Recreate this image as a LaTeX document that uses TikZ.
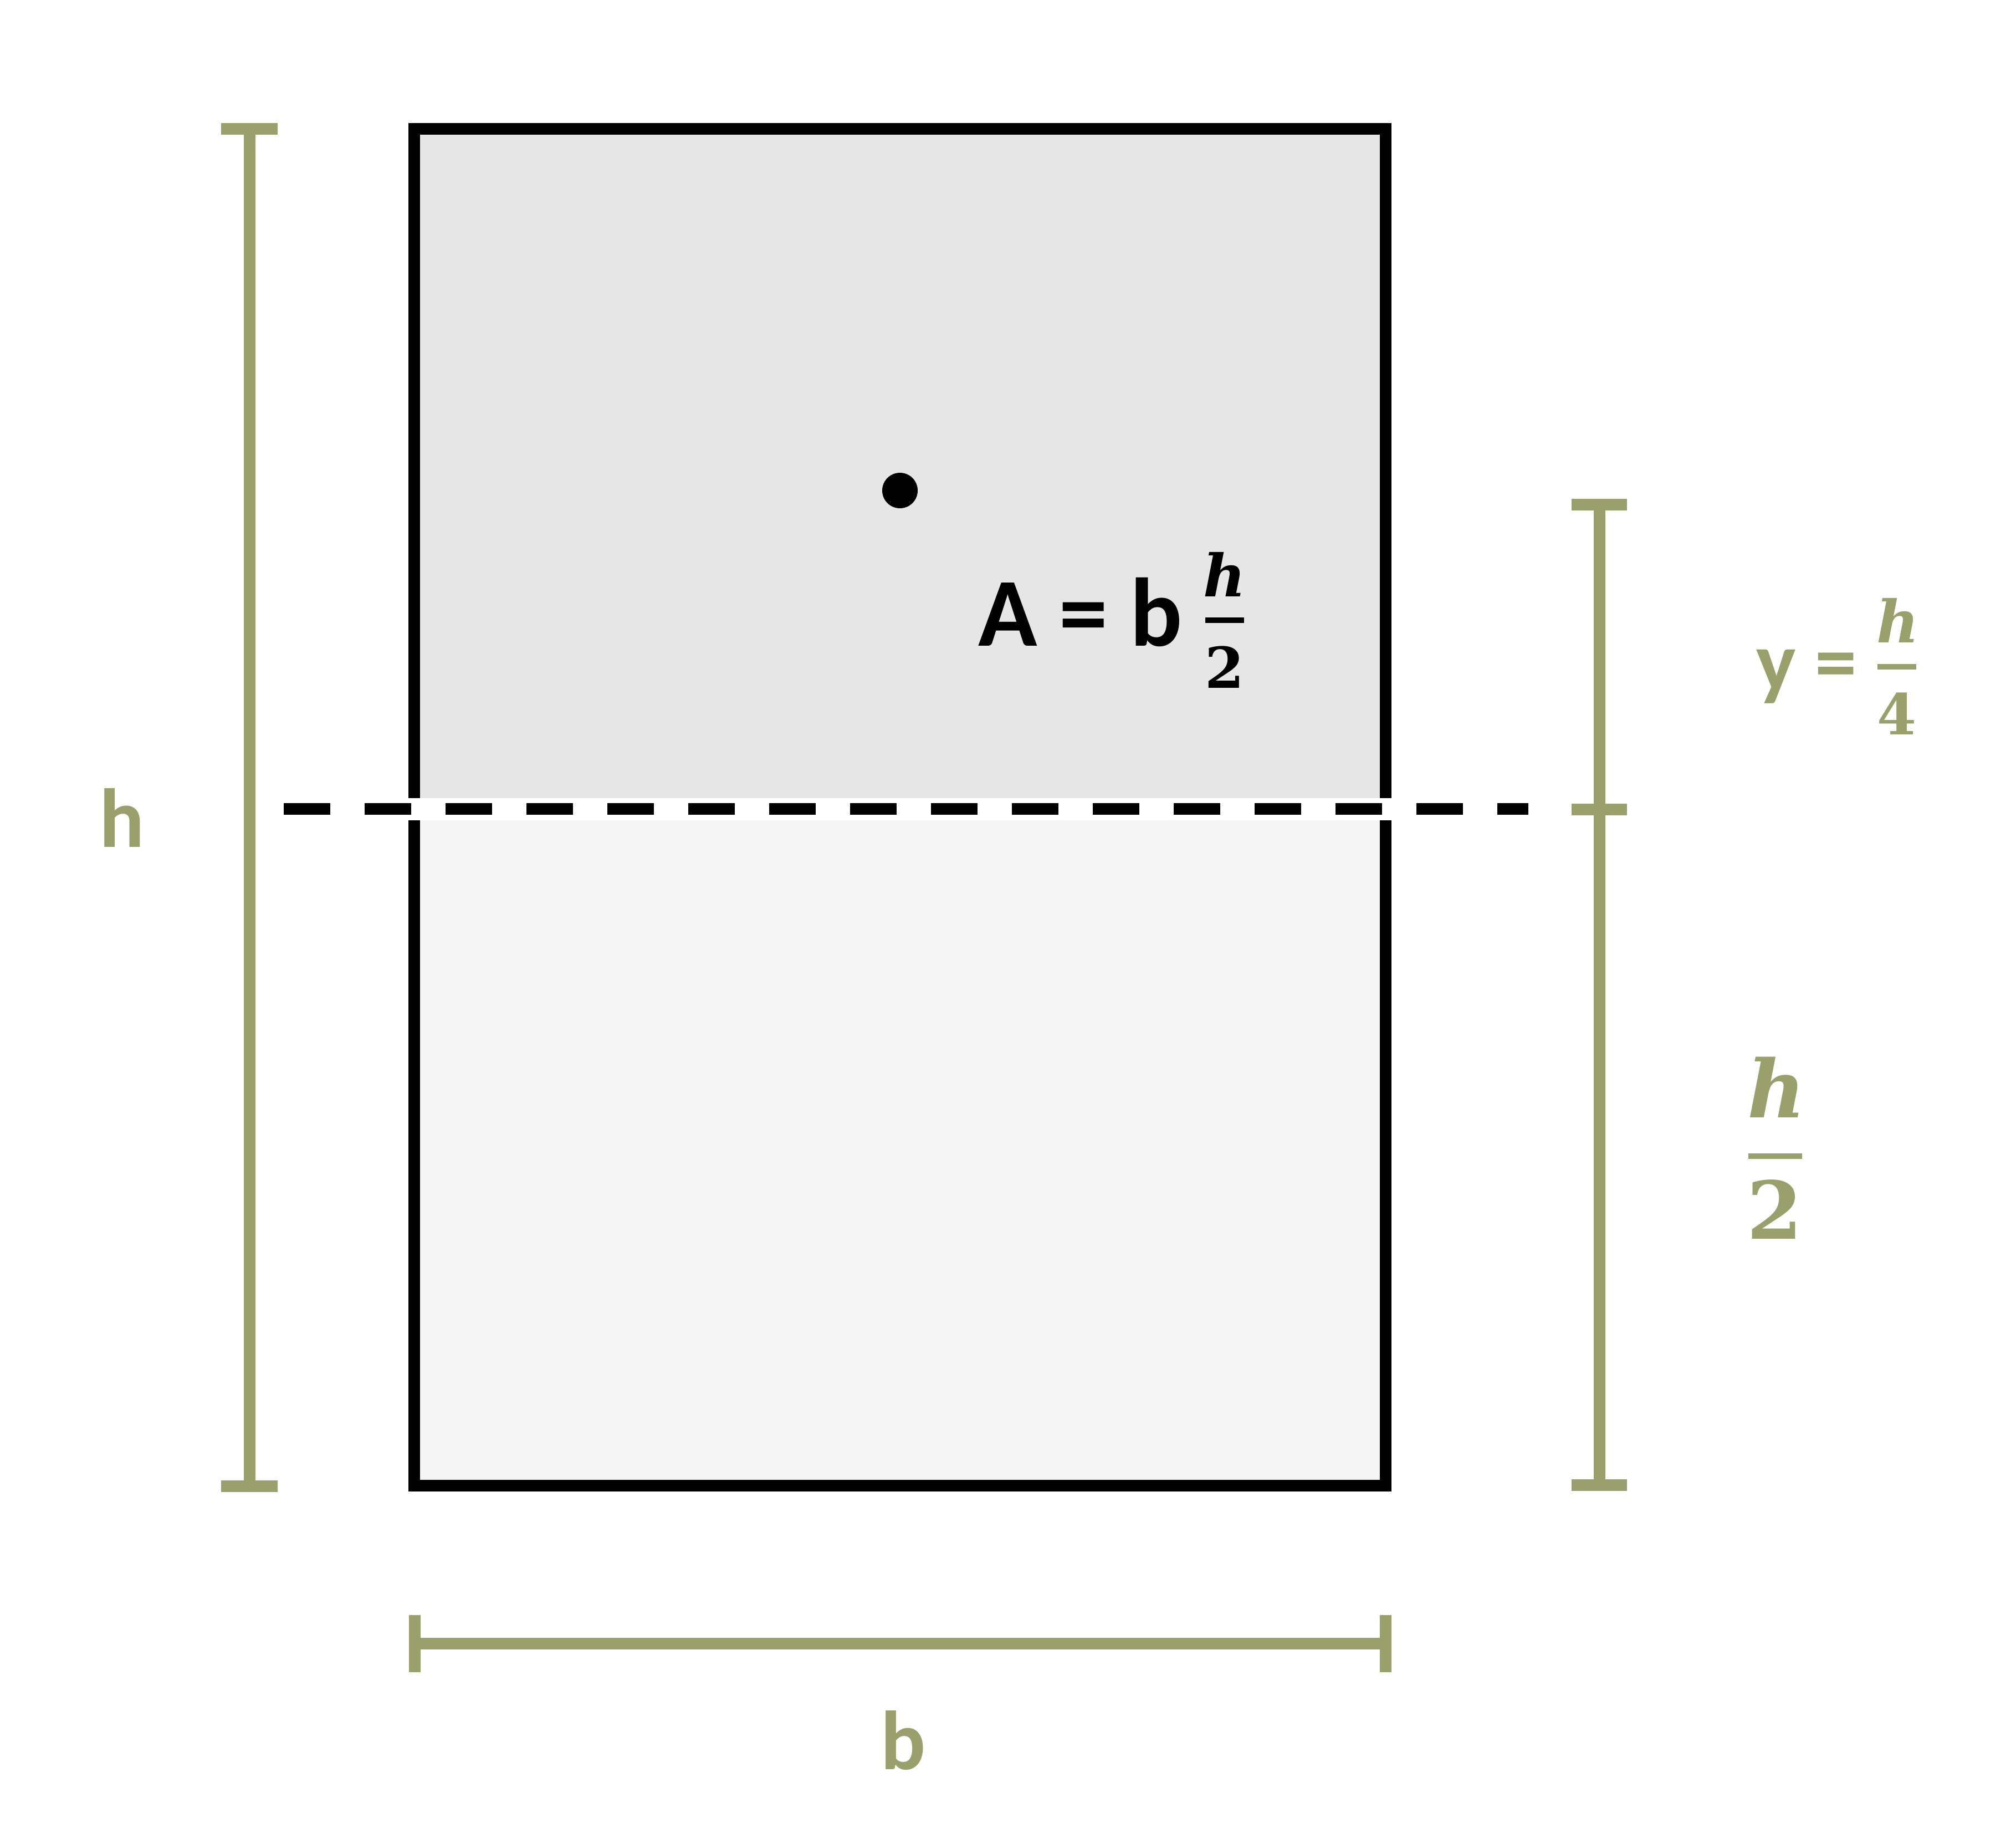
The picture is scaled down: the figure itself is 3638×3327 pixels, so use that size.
\documentclass[tikz,border=0pt]{standalone}
\usepackage{fontspec}
\setsansfont{Carlito}
\newfontfamily\fracserif{DejaVu Serif}
\usetikzlibrary{positioning}

\definecolor{dimgreen}{HTML}{99A06C}
\definecolor{topgray}{HTML}{E6E6E6}
\definecolor{lowgray}{HTML}{F5F5F5}

\newcommand{\eqtext}{\sffamily\bfseries\fontsize{50}{60}\selectfont}
\newcommand{\dimtext}{\sffamily\bfseries\fontsize{43}{52}\selectfont}
\newcommand{\fractext}[1]{\fracserif\bfseries\fontsize{#1}{#1}\selectfont}

\tikzset{
  border/.style={line width=2.1mm},
  dimline/.style={draw=dimgreen, line width=2.1mm},
  fracbar/.style={fill, inner sep=0, minimum height=1.05mm},
}

\begin{document}
\begin{tikzpicture}[x=0.1mm, y=-0.1mm]
  \useasboundingbox (0,0) rectangle (3638,3327);

  % section and cut
  \coordinate (tl) at (747,232);
  \coordinate (br) at (2500,2680);
  \coordinate (cl) at (747,1459);
  \coordinate (cr) at (2500,1459);
  \coordinate (cutL) at (512,1459);
  \coordinate (cutR) at (2758,1459);

  \fill[topgray] (tl) rectangle (cr);
  \fill[lowgray] (cl) rectangle (br);
  \draw[border] (tl) rectangle (br);
  \fill[white] ([shift={(-10,-19)}]cl) rectangle ([shift={(11,21)}]cr);
  \draw[border, dash pattern=on 8.4mm off 6.2mm] (cutL) -- (cutR);

  \node[circle, fill, inner sep=0, minimum size=6.4mm] (cg) at (1624,885) {};

  % dimensions
  \coordinate (hT) at (450,232);
  \coordinate (hB) at (450,2681);
  \coordinate (bL) at (748,2965);
  \coordinate (bR) at (2500,2965);
  \coordinate (yT) at (2886,910);
  \coordinate (yM) at (2886,1460);
  \coordinate (yB) at (2886,2679);

  \draw[dimline] (hT) -- (hB);
  \draw[dimline] (bL) -- (bR);
  \draw[dimline] (yT) -- (yM) -- (yB);
  \foreach \p in {hT,hB}
    \draw[dimline] ([xshift=-5.1mm]\p) -- ([xshift=5.1mm]\p);
  \foreach \p in {yT,yM,yB}
    \draw[dimline] ([xshift=-5mm]\p) -- ([xshift=5mm]\p);
  \foreach \p in {bL,bR}
    \draw[dimline] ([yshift=-5.15mm]\p) -- ([yshift=5.15mm]\p);

  % area of the upper part
  \begin{scope}[every node/.style={inner sep=0}]
    \node[anchor=base west, font=\eqtext] (area) at (1765,1165) {A = b};
    \node[anchor=base, font=\fractext{30}] (anum) at (2210,1076) {\itshape h};
    \node[fracbar, minimum width=7mm] (abar) at (2210,1119) {};
    \node[anchor=base, font=\fractext{29}] (aden) at (2210,1241) {2};
  \end{scope}

  % dimension labels
  \begin{scope}[every node/.style={inner sep=0, text=dimgreen}]
    \node[anchor=base, font=\dimtext] (hlab) at (220,1528) {h};
    \node[anchor=base, font=\dimtext] (blab) at (1630,3192) {b};
    \node[anchor=base west, font=\dimtext] (ylab) at (3169,1245) {y =};
    \node[anchor=base, font=\fractext{30}] (ynum) at (3425,1159) {\itshape h};
    \node[fracbar, fill=dimgreen, minimum width=7mm] (ybar) at (3423,1203) {};
    \node[anchor=base, font=\fractext{29}] (yden) at (3423,1325) {4};
    \node[anchor=base, font=\fractext{41}] (hnum) at (3206,2016) {\itshape h};
    \node[fracbar, fill=dimgreen, minimum width=9.7mm] (hbar) at (3203,2086) {};
    \node[anchor=base, font=\fractext{41}] (hden) at (3203,2235) {2};
  \end{scope}

\end{tikzpicture}
\end{document}
